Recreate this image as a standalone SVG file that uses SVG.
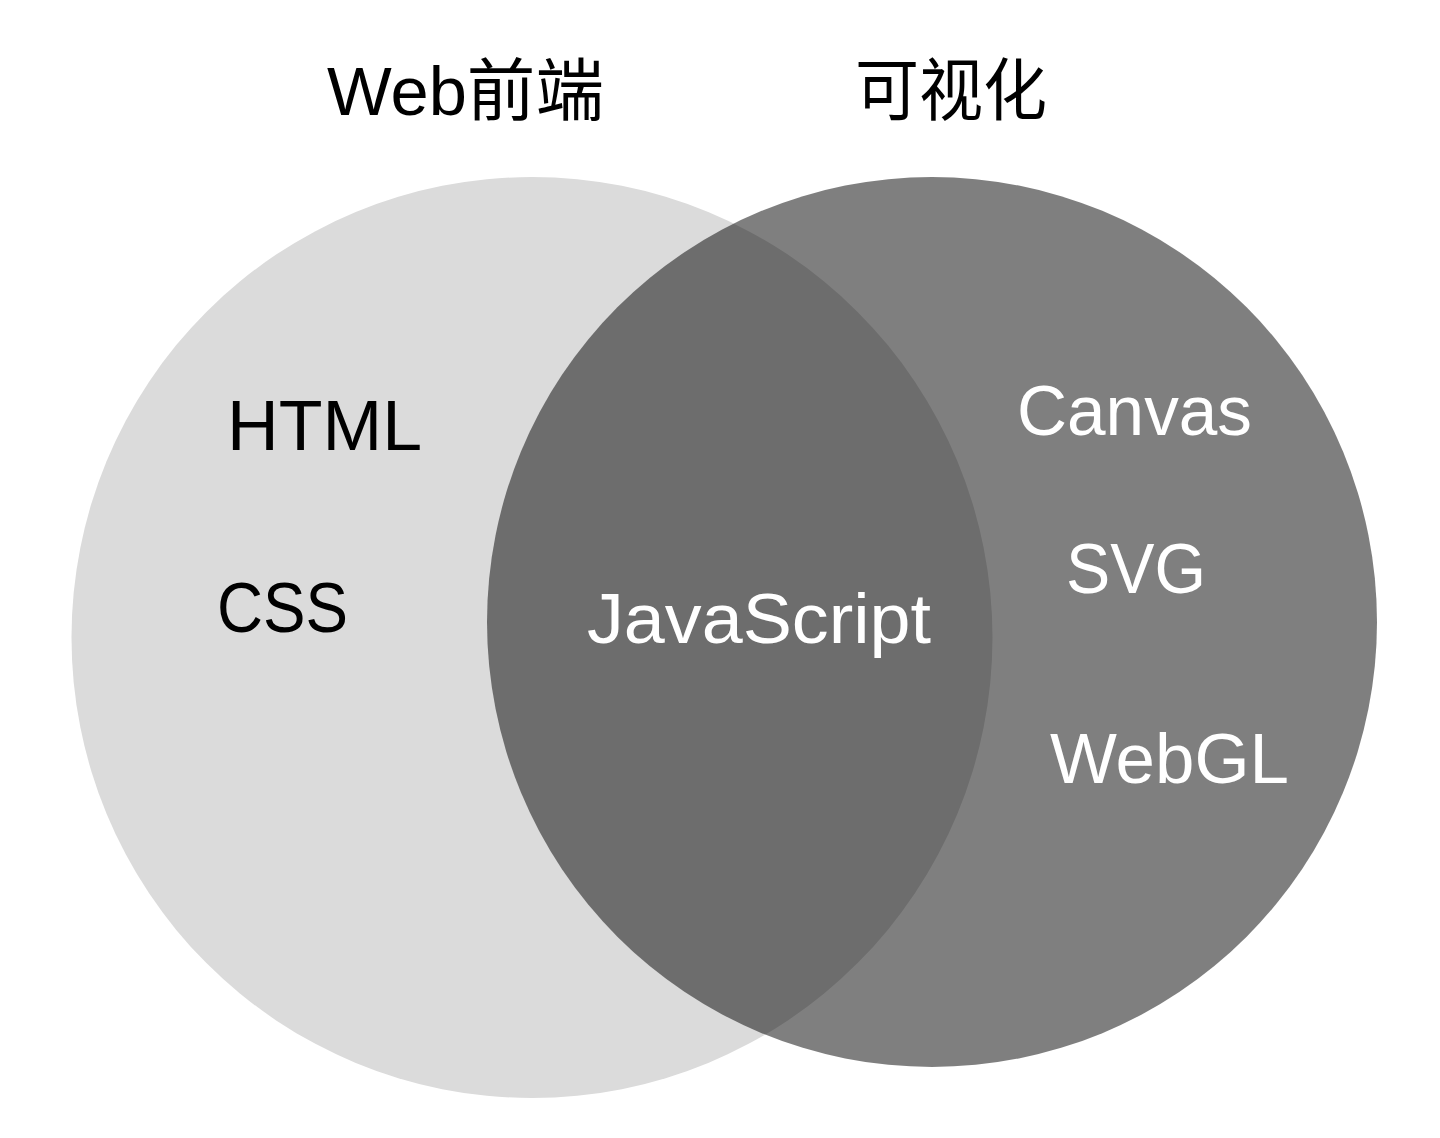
<svg xmlns="http://www.w3.org/2000/svg" width="1440" height="1138" viewBox="0 0 1440 1138">
  <style>
    .t { font-family: "Liberation Sans", "Noto Sans CJK SC", sans-serif; }
    .title { font-size: 68px; fill: #000; }
    .dark { font-size: 70px; fill: #000; }
    .light { font-size: 70px; fill: #fff; }
  </style>
  <rect width="1440" height="1138" fill="#ffffff"/>
  <g id="web-frontend">
    <circle cx="532" cy="637.5" r="460.5" fill="#dbdbdb"/>
    <text class="t title" x="327" y="115" textLength="277" lengthAdjust="spacingAndGlyphs">Web前端</text>
    <text class="t dark" x="227" y="450" textLength="195" lengthAdjust="spacingAndGlyphs">HTML</text>
    <text class="t dark" x="217" y="632" textLength="131" lengthAdjust="spacingAndGlyphs">CSS</text>
  </g>
  <g id="visualization">
    <circle cx="932" cy="622" r="445" fill="#000000" fill-opacity="0.5"/>
    <text class="t title" x="855" y="115" textLength="192" lengthAdjust="spacingAndGlyphs">可视化</text>
    <text class="t light" x="1017" y="435" textLength="235" lengthAdjust="spacingAndGlyphs">Canvas</text>
    <text class="t light" x="1066" y="593" textLength="140" lengthAdjust="spacingAndGlyphs">SVG</text>
    <text class="t light" x="1050" y="783" textLength="239" lengthAdjust="spacingAndGlyphs">WebGL</text>
  </g>
  <g id="javascript">
    <text class="t light" x="587" y="643" textLength="344" lengthAdjust="spacingAndGlyphs">JavaScript</text>
  </g>
  <g id="connectors"/>
</svg>
